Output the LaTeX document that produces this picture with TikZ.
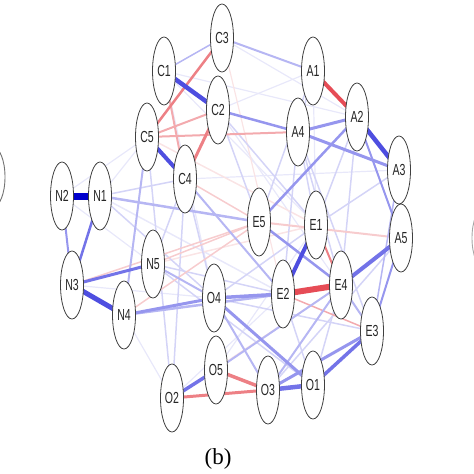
\documentclass[tikz,border=0pt]{standalone}
\usepackage{fontspec}
\setmainfont{Liberation Sans}
\newfontfamily\capfont{Liberation Serif}
\usepackage{graphicx}
\usetikzlibrary{shapes.geometric,backgrounds}
\definecolor{dblue}{RGB}{0,0,205}
\definecolor{bA}{RGB}{78,78,224}
\definecolor{bB}{RGB}{115,115,232}
\definecolor{bC}{RGB}{150,150,238}
\definecolor{bD}{RGB}{182,182,243}
\definecolor{bE}{RGB}{212,212,247}
\definecolor{bF}{RGB}{232,232,250}
\definecolor{rA}{RGB}{230,76,86}
\definecolor{rB}{RGB}{237,128,133}
\definecolor{rC}{RGB}{243,170,174}
\definecolor{rD}{RGB}{247,204,206}
\definecolor{rE}{RGB}{250,228,229}
\newcommand{\vlab}[1]{\scalebox{0.66}[1]{#1}}
\newcommand{\edg}[4]{\draw[line width=#4pt, draw=#3] (#1.center) -- (#2.center);}
\tikzset{
  var/.style={ellipse, draw=black!75, line width=0.8pt, fill=white,
    minimum width=23pt, minimum height=68pt, inner sep=0pt,
    font=\fontsize{16}{16}\selectfont, text=black!85},
  sidepanel/.style={draw=black!55, line width=0.9pt},
}
\begin{document}
\begin{tikzpicture}[x=1pt,y=-1pt]
\useasboundingbox (0,0) rectangle (474,474);
\begin{scope}
\clip (0,0) rectangle (474,474);
\draw[sidepanel] (-7,177) ellipse [x radius=12, y radius=30];
\draw[sidepanel, draw=black!35] (484,238) ellipse [x radius=12, y radius=30];
\end{scope}
% nodes
\node[var] (C3) at (222,38) {\vlab{C3}};
\node[var] (C1) at (164,71) {\vlab{C1}};
\node[var] (C2) at (218,110) {\vlab{C2}};
\node[var] (C5) at (147,137) {\vlab{C5}};
\node[var] (C4) at (185,179) {\vlab{C4}};
\node[var] (N2) at (62,196) {\vlab{N2}};
\node[var] (N1) at (100,196) {\vlab{N1}};
\node[var] (N3) at (72,285) {\vlab{N3}};
\node[var] (N5) at (153,264) {\vlab{N5}};
\node[var] (N4) at (124,315) {\vlab{N4}};
\node[var] (O4) at (214,298) {\vlab{O4}};
\node[var] (O5) at (216,370) {\vlab{O5}};
\node[var] (O2) at (172,398) {\vlab{O2}};
\node[var] (A1) at (313,71) {\vlab{A1}};
\node[var] (A2) at (357,117) {\vlab{A2}};
\node[var] (A4) at (298,132) {\vlab{A4}};
\node[var] (A3) at (399,170) {\vlab{A3}};
\node[var] (A5) at (401,238) {\vlab{A5}};
\node[var] (E5) at (259,222) {\vlab{E5}};
\node[var] (E1) at (316,225) {\vlab{E1}};
\node[var] (E2) at (283,294) {\vlab{E2}};
\node[var] (E4) at (341,285) {\vlab{E4}};
\node[var] (E3) at (372,331) {\vlab{E3}};
\node[var] (O1) at (313,385) {\vlab{O1}};
\node[var] (O3) at (268,390) {\vlab{O3}};
\node[font=\capfont\fontsize{23}{23}\selectfont] (cap) at (218,459) {(b)};
% edges
\begin{pgfonlayer}{background}
\edg{C1}{A2}{bF}{1.2}
\edg{C3}{A2}{bF}{1.2}
\edg{C2}{A1}{bF}{1.2}
\edg{N4}{O2}{bF}{1.2}
\edg{N1}{C5}{bF}{1.2}
\edg{N2}{C5}{bF}{1.2}
\edg{C1}{E1}{bF}{1.2}
\edg{E1}{A1}{bF}{1.2}
\edg{O2}{E2}{bF}{1.2}
\edg{C1}{O4}{bF}{1.2}
\edg{N1}{E2}{bF}{1.5}
\edg{N3}{O4}{bF}{1.2}
\edg{C4}{A3}{bF}{1.2}
\edg{C2}{E3}{bF}{1.2}
\edg{N2}{N5}{bF}{1.2}
\edg{O5}{E1}{bF}{1.2}
\edg{O2}{E4}{rE}{1.2}
\edg{C3}{E2}{rE}{1.2}
\edg{N5}{E1}{rE}{1.5}
\edg{C5}{E1}{rE}{1.5}
\edg{C2}{E1}{bE}{1.5}
\edg{C4}{O4}{bE}{1.5}
\edg{N5}{E2}{bE}{1.5}
\edg{N1}{O4}{bE}{1.5}
\edg{N5}{O1}{bE}{1.5}
\edg{A4}{E1}{bE}{1.5}
\edg{A1}{E5}{bE}{1.5}
\edg{A4}{E4}{bE}{1.5}
\edg{A1}{A4}{bE}{1.5}
\edg{A4}{E2}{bE}{1.5}
\edg{N5}{C4}{bE}{1.5}
\edg{N1}{C4}{bE}{1.5}
\edg{O4}{E1}{bE}{1.5}
\edg{O3}{A5}{bE}{1.5}
\edg{O1}{E2}{bE}{1.5}
\edg{O1}{E4}{bE}{1.5}
\edg{E3}{O4}{bE}{1.5}
\edg{C2}{E5}{bE}{1.5}
\edg{E1}{A3}{bE}{1.5}
\edg{A4}{E3}{bE}{1.5}
\edg{A2}{E4}{bE}{1.5}
\edg{A2}{E1}{bE}{1.5}
\edg{O2}{C5}{bE}{1.5}
\edg{O2}{C4}{bE}{1.5}
\edg{N5}{E5}{rD}{1.5}
\edg{N4}{E5}{rD}{1.5}
\edg{N3}{E5}{rD}{1.5}
\edg{C4}{E5}{rD}{1.5}
\edg{E5}{A5}{rD}{2}
\edg{E2}{E3}{rC}{1.5}
\edg{N4}{E2}{bD}{2.5}
\edg{O5}{E4}{bD}{2}
\edg{O3}{E4}{bD}{2}
\edg{C4}{E2}{bD}{2}
\edg{N5}{O4}{bD}{2}
\edg{C5}{N4}{bD}{2}
\edg{O4}{O3}{bD}{2}
\edg{N1}{E5}{bD}{2.5}
\edg{C3}{A1}{bD}{2}
\edg{C3}{C1}{bD}{1.5}
\edg{A3}{E3}{bD}{1.5}
\edg{E4}{E3}{bD}{2}
\edg{C1}{C4}{rC}{2}
\edg{C5}{A4}{rC}{2}
\edg{C5}{C2}{rC}{2}
\edg{E1}{E4}{rB}{2}
\edg{C3}{C5}{rB}{2.5}
\edg{C2}{C4}{rB}{3}
\edg{N2}{N3}{bC}{2}
\edg{A4}{A2}{bC}{3}
\edg{A4}{A3}{bC}{3}
\edg{C2}{A4}{bC}{2.5}
\edg{A2}{E5}{bC}{2.5}
\edg{A2}{A5}{bC}{2}
\edg{A5}{E3}{bC}{2}
\edg{A3}{A5}{bC}{2}
\edg{O4}{E2}{bC}{3.5}
\edg{N4}{O4}{bC}{3}
\edg{O4}{O1}{bC}{3}
\edg{E5}{E4}{bC}{2.5}
\edg{O3}{E3}{bC}{3}
\edg{O2}{O3}{rB}{3}
\edg{O5}{O3}{rB}{3.5}
\edg{N3}{N5}{bB}{3}
\edg{N1}{N3}{bB}{2.5}
\edg{A5}{E4}{bB}{4}
\edg{O3}{O1}{bB}{4.5}
\edg{O1}{E3}{bB}{3.5}
\edg{O2}{O5}{bB}{3.5}
\edg{N3}{N4}{bA}{5}
\edg{C1}{C2}{bA}{4.5}
\edg{C5}{C4}{bA}{4}
\edg{A2}{A3}{bA}{4.5}
\edg{E1}{E2}{bA}{4}
\edg{A1}{A2}{rA}{4}
\edg{E2}{E4}{rA}{6}
\edg{N2}{N1}{dblue}{7}
\end{pgfonlayer}
\end{tikzpicture}
\end{document}
